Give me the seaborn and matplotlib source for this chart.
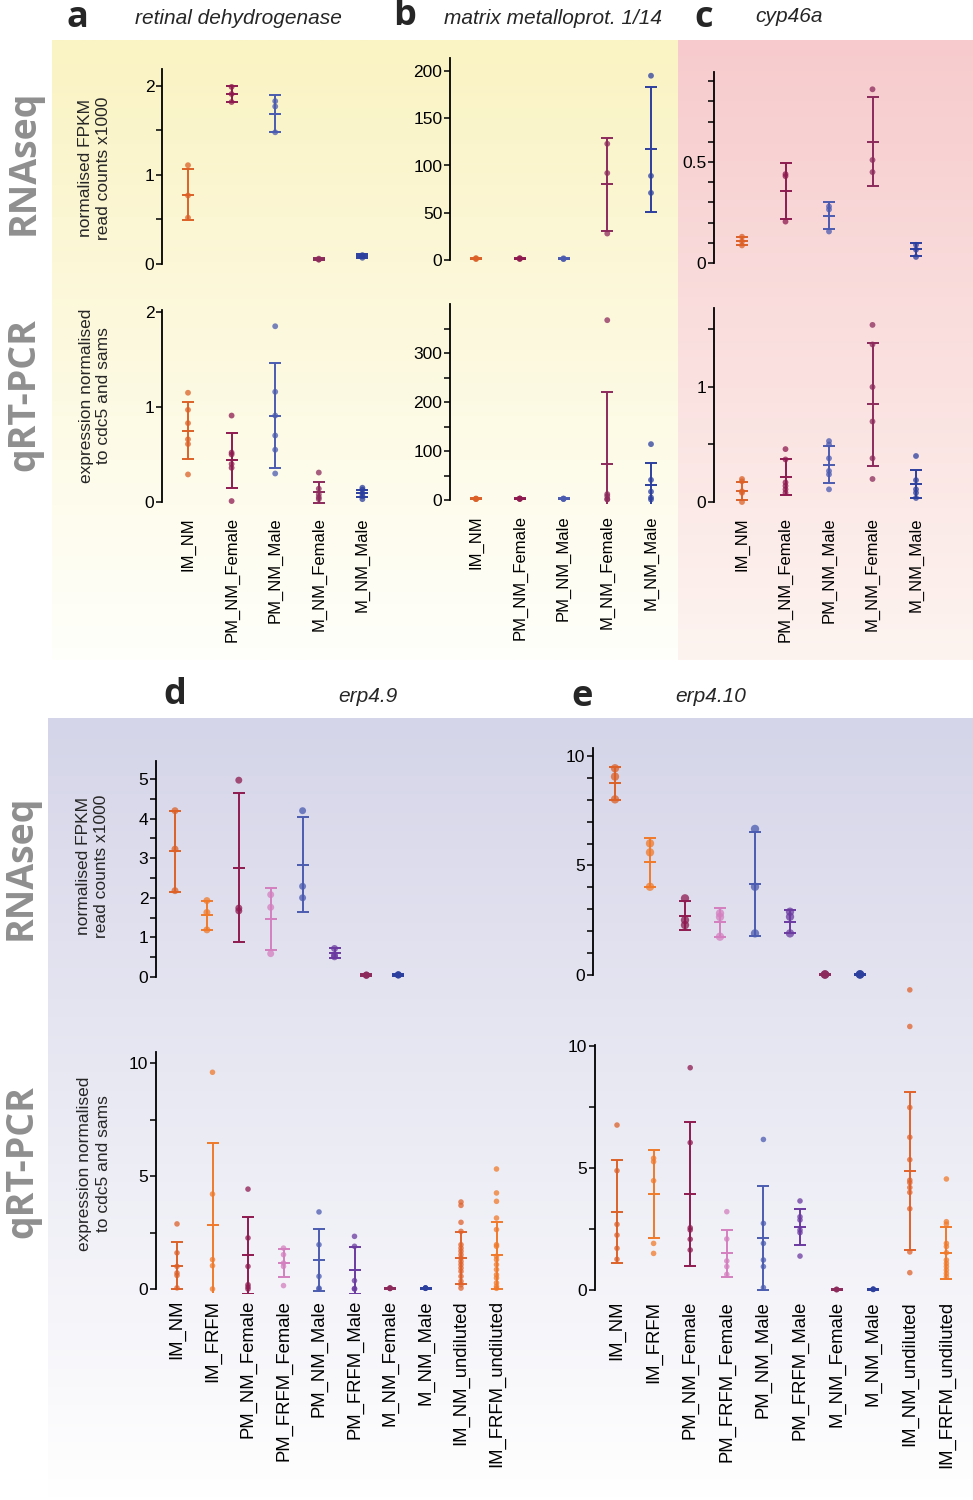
import numpy as np
import pandas as pd
import matplotlib
matplotlib.use("Agg")
import matplotlib.pyplot as plt
import matplotlib.colors as mcolors
import seaborn as sns
from matplotlib import font_manager

W, H = 973, 1500

# categories
cats5 = ['IM_NM', 'PM_NM_Female', 'PM_NM_Male', 'M_NM_Female', 'M_NM_Male']
cats8 = ['IM_NM', 'IM_FRFM', 'PM_NM_Female', 'PM_FRFM_Female', 'PM_NM_Male',
         'PM_FRFM_Male', 'M_NM_Female', 'M_NM_Male']
cats10 = cats8 + ['IM_NM_undiluted', 'IM_FRFM_undiluted']

col5 = ['#dc6128', '#8e1a50', '#4b5bb0', '#8c2a5c', '#2c3f9e']
col8 = ['#dc6128', '#f07a2a', '#8e1a50', '#d47fbf', '#4b5bb0', '#6b3aa0', '#8c2a5c', '#2c3f9e']
col10 = col8 + ['#e0622a', '#f07a2a']

# a: retinal dehydrogenase
a_rna_pts = [[1.11, 0.77, 0.52], [1.99, 1.91, 1.82], [1.83, 1.77, 1.48], [0.05, 0.06, 0.05], [0.07, 0.10, 0.09]]
a_rna_mean = [0.78, 1.91, 1.69, 0.055, 0.087]
a_rna_sd = [0.29, 0.09, 0.21, 0.01, 0.02]
a_pcr_pts = [[1.15, 0.97, 0.83, 0.66, 0.61, 0.29], [0.91, 0.52, 0.50, 0.40, 0.36, 0.01],
             [1.85, 1.16, 0.91, 0.70, 0.55, 0.30], [0.31, 0.14, 0.08, 0.05, 0.03],
             [0.15, 0.13, 0.09, 0.06, 0.03]]
a_pcr_mean = [0.75, 0.44, 0.91, 0.10, 0.09]
a_pcr_sd = [0.30, 0.29, 0.55, 0.11, 0.04]

# b: matrix metalloprot. 1/14
b_rna_pts = [[1.0, 1.5, 2.0], [1.0, 1.5, 2.0], [1.0, 1.2, 1.8], [123, 92, 28], [195, 89, 71]]
b_rna_mean = [1.5, 1.5, 1.3, 80, 117]
b_rna_sd = [0.6, 0.6, 0.5, 49, 66]
b_pcr_pts = [[2.0, 2.5, 3.0, 2.0], [2.0, 3.0, 2.5, 3.0], [2.0, 2.5, 3.0, 2.5],
             [367, 12, 8, 2, 1], [114, 41, 17, 5, 1]]
b_pcr_mean = [2.4, 2.6, 2.5, 73, 31]
b_pcr_sd = [1.0, 1.0, 1.0, 148, 44]

# c: cyp46a
c_rna_pts = [[0.13, 0.107, 0.087], [0.44, 0.43, 0.205], [0.28, 0.265, 0.156], [0.86, 0.51, 0.45], [0.09, 0.066, 0.03]]
c_rna_mean = [0.11, 0.357, 0.233, 0.60, 0.069]
c_rna_sd = [0.02, 0.14, 0.067, 0.22, 0.032]
c_pcr_pts = [[0.20, 0.18, 0.093, 0.08, 0.0], [0.46, 0.37, 0.17, 0.14, 0.11, 0.08],
             [0.53, 0.50, 0.38, 0.27, 0.24, 0.11], [1.54, 1.37, 1.0, 0.70, 0.38, 0.20],
             [0.40, 0.19, 0.11, 0.08, 0.035]]
c_pcr_mean = [0.096, 0.22, 0.325, 0.85, 0.157]
c_pcr_sd = [0.075, 0.155, 0.16, 0.535, 0.125]

# d: erp4.9
d_rna_pts = [[4.2, 3.23, 2.18], [1.93, 1.63, 1.19], [4.97, 1.74, 1.67], [2.08, 1.76, 0.59],
             [4.2, 2.29, 2.0], [0.72, 0.55, 0.51], [0.05, 0.04, 0.05], [0.05, 0.06, 0.05]]
d_rna_mean = [3.17, 1.56, 2.76, 1.46, 2.83, 0.60, 0.05, 0.055]
d_rna_sd = [1.02, 0.37, 1.88, 0.79, 1.2, 0.12, 0.02, 0.02]
d_pcr_pts = [[2.88, 1.6, 1.0, 0.71, 0.6, 0.05], [9.59, 4.2, 1.3, 1.03, 0.0],
             [4.42, 2.26, 1.0, 0.19, 0.09, 0.0], [1.81, 1.52, 1.15, 1.0, 0.15],
             [3.41, 1.96, 0.56, 0.04, 0.0], [2.33, 1.89, 0.37, 0.0, 0.02],
             [0.05, 0.03, 0.02, 0.04], [0.05, 0.04, 0.03, 0.04],
             [3.85, 3.7, 2.95, 2.55, 1.96, 1.81, 1.67, 1.52, 1.37, 1.22, 1.08, 0.93, 0.78, 0.56, 0.34, 0.19, 0.04],
             [5.31, 4.25, 3.88, 3.14, 2.63, 1.96, 1.89, 1.45, 1.3, 1.08, 0.86, 0.63, 0.49, 0.27, 0.12, 0.03]]
d_pcr_mean = [1.02, 2.82, 1.49, 1.15, 1.3, 0.82, 0.03, 0.04, 1.37, 1.49]
d_pcr_sd = [1.04, 3.64, 1.7, 0.63, 1.37, 1.05, 0.02, 0.02, 1.14, 1.47]

# e: erp4.10
e_rna_pts = [[9.44, 9.06, 8.02], [6.01, 5.6, 4.03], [3.5, 2.51, 2.28], [2.82, 2.65, 1.75],
             [6.67, 4.03, 1.9], [2.89, 2.66, 1.9], [0.02, 0.03, 0.02], [0.02, 0.03, 0.03]]
e_rna_mean = [8.75, 5.14, 2.71, 2.4, 4.14, 2.44, 0.02, 0.02]
e_rna_sd = [0.76, 1.12, 0.65, 0.67, 2.38, 0.53, 0.02, 0.02]
e_pcr_pts = [[6.76, 4.89, 2.69, 2.25, 1.71, 1.26], [5.4, 5.26, 4.48, 1.91, 1.5],
             [9.11, 6.04, 2.55, 2.46, 2.08, 1.64], [3.21, 2.09, 1.19, 0.96, 0.64],
             [6.17, 2.73, 1.91, 1.23, 0.96, 0.1], [3.65, 3.0, 2.87, 2.46, 2.35, 1.39],
             [0.03, 0.02, 0.01], [0.04, 0.03, 0.02],
             [12.3, 10.8, 7.48, 6.26, 5.34, 4.5, 4.4, 4.2, 4.0, 3.33, 1.56, 0.71],
             [4.55, 2.8, 2.7, 1.91, 1.78, 1.53, 1.23, 1.09, 0.96, 0.82, 0.68, 0.55]]
e_pcr_mean = [3.21, 3.93, 3.93, 1.5, 2.14, 2.58, 0.02, 0.03, 4.88, 1.53]
e_pcr_sd = [2.12, 1.79, 2.96, 0.96, 2.14, 0.75, 0.02, 0.02, 3.25, 1.07]

sns.set_style("ticks")
plt.rcParams['font.family'] = ['Liberation Sans', 'DejaVu Sans']

names = {f.name for f in font_manager.fontManager.ttflist}
if 'Liberation Sans Narrow' in names:
    row_font, row_size = 'Liberation Sans Narrow', 33
else:
    row_font, row_size = 'Open Sans', 27

fig = plt.figure(figsize=(W / 100, H / 100), dpi=100)

# background gradients, in pixel coords
bg = fig.add_axes([0, 0, 1, 1])
bg.set_xlim(0, W)
bg.set_ylim(H, 0)
bg.axis('off')


def grad(x0, x1, y0, y1, c_top, c_bot):
    t = np.linspace(0, 1, 256)[:, None, None]
    top = np.array(mcolors.to_rgb(c_top))
    bot = np.array(mcolors.to_rgb(c_bot))
    img = (1 - t) * top + t * bot
    bg.imshow(img, extent=(x0, x1, y1, y0), aspect='auto', zorder=0)


grad(52, 678, 40, 660, '#faf3c3', '#fffffb')
grad(678, 973, 40, 660, '#f7cbcd', '#fdf4f0')
grad(48, 973, 718, 1500, '#d5d5e9', '#ffffff')
bg.set_xlim(0, W)
bg.set_ylim(H, 0)


def panel(spine_x, first_x, step, n, zero_y, ppu, ytop):
    ybot = -4.0 / ppu
    xmin = (spine_x - first_x) / step
    xmax = n - 0.5
    right_px = first_x + xmax * step
    top_px = zero_y - ytop * ppu
    bot_px = zero_y - ybot * ppu
    ax = fig.add_axes([spine_x / W, 1 - bot_px / H, (right_px - spine_x) / W, (bot_px - top_px) / H])
    return ax, (xmin, xmax), (ybot, ytop)


def draw(ax, lims, cats, cols, pts, mean, sd, yticks, ylabels, show_x,
         dot=4.2, lw=1.4, xfs=12, xpad=8):
    df = pd.DataFrame({'group': [c for c, p in zip(cats, pts) for _ in p],
                       'value': [v for p in pts for v in p]})
    sns.stripplot(data=df, x='group', y='value', hue='group', order=cats, hue_order=cats,
                  palette=cols, jitter=False, size=dot, alpha=0.75, linewidth=0,
                  legend=False, ax=ax, zorder=2)
    for coll in ax.collections:
        coll.set_clip_on(False)
    for i, c in enumerate(cols):
        ax.errorbar(i, mean[i], yerr=sd[i], fmt='_', color=c, ms=9, mew=lw,
                    elinewidth=lw, capsize=4.5, capthick=lw, zorder=3)
    ax.set_xlim(*lims[0])
    ax.set_ylim(*lims[1])
    ax.patch.set_alpha(0)
    for s in ['top', 'right', 'bottom']:
        ax.spines[s].set_visible(False)
    ax.spines['left'].set_color('black')
    ax.spines['left'].set_linewidth(1.3)
    ax.spines['left'].set_bounds(0, lims[1][1])
    ax.set_yticks(yticks)
    ax.set_yticklabels(ylabels)
    ax.tick_params(axis='y', length=4, width=1.1, pad=1.5, labelsize=12.5, colors='black')
    ax.set_xlabel('')
    ax.set_ylabel('')
    if show_x:
        ax.set_xticks(range(len(cats)))
        ax.set_xticklabels(cats, rotation=90, fontsize=xfs)
        ax.tick_params(axis='x', length=0, pad=xpad, colors='black')
    else:
        ax.set_xticks([])


# a
ax, xl, yl = panel(162, 188, 43.6, 5, 264, 89, 2.19)
draw(ax, (xl, yl), cats5, col5, a_rna_pts, a_rna_mean, a_rna_sd,
     [0, 0.5, 1, 1.5, 2], ['0', '', '1', '', '2'], False)
ax, xl, yl = panel(162, 188, 43.6, 5, 502, 95, 2.02)
draw(ax, (xl, yl), cats5, col5, a_pcr_pts, a_pcr_mean, a_pcr_sd,
     [0, 1, 2], ['0', '1', '2'], True)

# b
ax, xl, yl = panel(450, 476, 43.75, 5, 260, 0.945, 213.8)
draw(ax, (xl, yl), cats5, col5, b_rna_pts, b_rna_mean, b_rna_sd,
     [0, 50, 100, 150, 200], ['0', '50', '100', '150', '200'], False)
ax, xl, yl = panel(450, 476, 43.75, 5, 500, 0.49, 400)
draw(ax, (xl, yl), cats5, col5, b_pcr_pts, b_pcr_mean, b_pcr_sd,
     [0, 50, 100, 150, 200, 250, 300, 350], ['0', '', '100', '', '200', '', '300', ''], True)

# c
ax, xl, yl = panel(714, 742, 43.5, 5, 263, 202, 0.945)
draw(ax, (xl, yl), cats5, col5, c_rna_pts, c_rna_mean, c_rna_sd,
     [i / 10 for i in range(10)], ['0', '', '', '', '', '0.5', '', '', '', ''], False)
ax, xl, yl = panel(714, 742, 43.5, 5, 502, 115, 1.69)
draw(ax, (xl, yl), cats5, col5, c_pcr_pts, c_pcr_mean, c_pcr_sd,
     [0, 0.5, 1, 1.5], ['0', '', '1', ''], True)

# d
ax, xl, yl = panel(156, 175, 31.9, 8, 977, 39.6, 5.45)
draw(ax, (xl, yl), cats8, col8, d_rna_pts, d_rna_mean, d_rna_sd,
     [i / 2 for i in range(11)], ['0', '', '1', '', '2', '', '3', '', '4', '', '5'], False, dot=5)
ax, xl, yl = panel(156, 177, 35.5, 10, 1289, 22.6, 10.5)
draw(ax, (xl, yl), cats10, col10, d_pcr_pts, d_pcr_mean, d_pcr_sd,
     [0, 2.5, 5, 7.5, 10], ['0', '', '5', '', '10'], True, dot=4, xfs=13.3, xpad=5)

# e
ax, xl, yl = panel(593, 615, 35, 8, 975, 21.9, 10.35)
draw(ax, (xl, yl), cats8, col8, e_rna_pts, e_rna_mean, e_rna_sd,
     list(range(11)), ['0', '', '', '', '', '5', '', '', '', '', '10'], False, dot=6)
ax, xl, yl = panel(595, 617, 36.6, 10, 1290, 24.4, 10.05)
draw(ax, (xl, yl), cats10, col10, e_pcr_pts, e_pcr_mean, e_pcr_sd,
     [0, 2.5, 5, 7.5, 10], ['0', '', '5', '', '10'], True, dot=4, xfs=13.3, xpad=5)

# panel letters and gene names
for letter, x, y in [('a', 77, 18), ('b', 405, 16), ('c', 704, 18), ('d', 175, 695), ('e', 582, 697)]:
    bg.text(x, y, letter, fontsize=26, fontweight='bold', ha='center', va='center',
            family=['Open Sans', 'DejaVu Sans'])
for gene, x, y in [('retinal dehydrogenase', 238, 19), ('matrix metalloprot. 1/14', 553, 18),
                   ('cyp46a', 789, 16), ('erp4.9', 368, 697), ('erp4.10', 711, 697)]:
    bg.text(x, y, gene, fontsize=15, style='italic', ha='center', va='center')

# row labels
for lab, x, y in [('RNAseq', 24, 162), ('qRT-PCR', 24, 395), ('RNAseq', 21, 867), ('qRT-PCR', 22, 1162)]:
    bg.text(x, y, lab, fontsize=row_size, fontweight='bold', color='#8f8f8f', rotation=90,
            ha='center', va='center', family=[row_font, 'DejaVu Sans'])

# y axis titles
for lab, x, y in [('normalised FPKM\nread counts x1000', 94, 168),
                  ('expression normalised\nto cdc5 and sams', 95, 396),
                  ('normalised FPKM\nread counts x1000', 93, 866),
                  ('expression normalised\nto cdc5 and sams', 94, 1164)]:
    bg.text(x, y, lab, fontsize=12.5, rotation=90, ha='center', va='center',
            multialignment='center', linespacing=1.25)

fig.savefig('out.png', dpi=100)
